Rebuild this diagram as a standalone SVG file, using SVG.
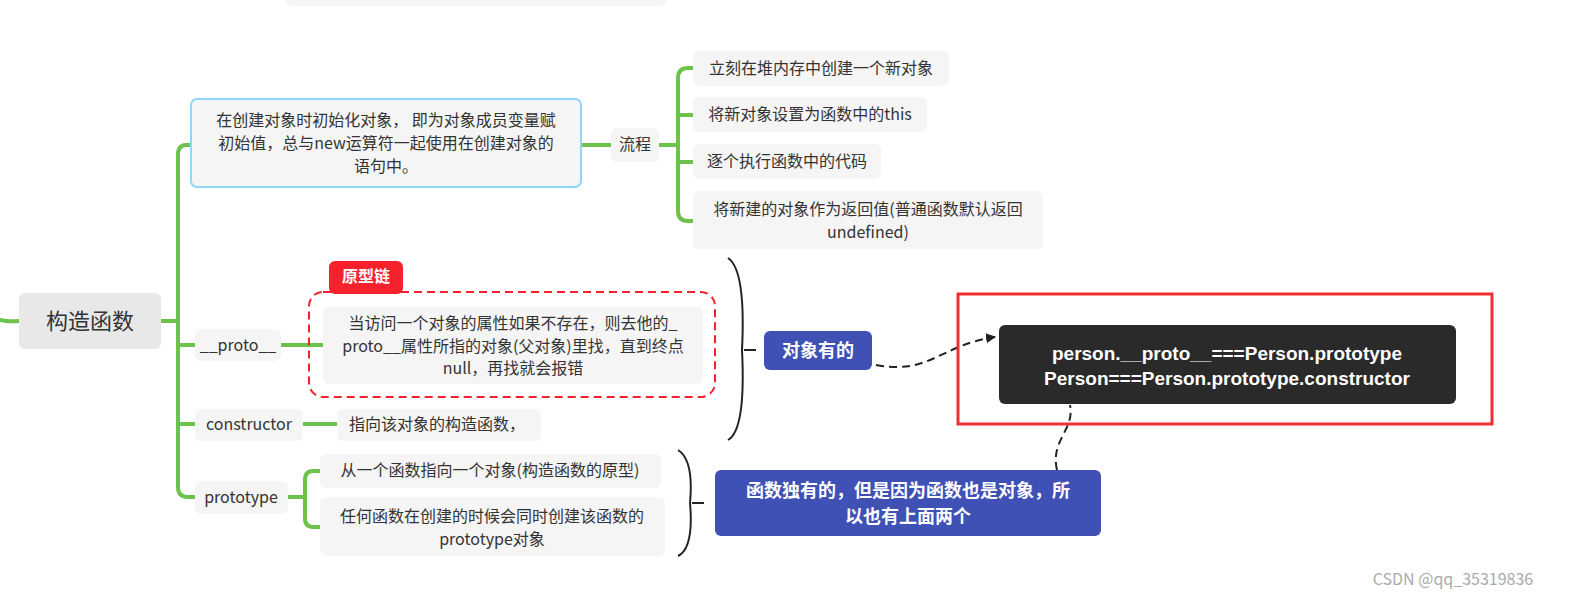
<svg xmlns="http://www.w3.org/2000/svg" width="1582" height="603" viewBox="0 0 1582 603">
<style>
text{font-family:"Noto Sans CJK SC","Liberation Sans",sans-serif;fill:#333;font-size:16px;text-anchor:middle}
.b{fill:#f5f5f5}
.g{fill:none;stroke:#6cc24a;stroke-width:4;stroke-linecap:round}
.w{fill:#fff;font-weight:bold}
.br{fill:none;stroke:#222;stroke-width:2}
</style>
<defs><marker id="ah" markerWidth="10" markerHeight="10" refX="9" refY="5" orient="auto" markerUnits="userSpaceOnUse"><path d="M0,0 L10,5 L0,10 Z" fill="#222"/></marker></defs>
<rect x="286" y="-12" width="381" height="18" rx="6" class="b"/>
<g id="connectors">
<path class="g" d="M0,320 Q8,322 19,321"/>
<path class="g" d="M161,321 L178,321"/>
<path class="g" d="M191,145 L186,145 Q178,145 178,155 L178,487 Q178,497 188,497 L195,497"/>
<path class="g" d="M178,345 L195,345 M178,424 L195,424"/>
<path class="g" d="M581,145 L611,145 M659,145 L678,145"/>
<path class="g" d="M693,68 L688,68 Q678,68 678,78 L678,211 Q678,221 688,221 L693,221 M678,115 L693,115 M678,162 L693,162"/>
<path class="g" d="M281,345 L323,345 M303,424 L337,424"/>
<path class="g" d="M288,497 L305,497 M320,471 L313,471 Q305,471 305,480 L305,518 Q305,527 313,527 L320,527"/>
<path class="br" d="M728,258 Q746,270 742,350 Q746,430 728,440 M744,350 L756,350"/>
<path class="br" d="M678,450 Q694,460 690,503 Q694,548 678,556 M692,503 L704,503"/>
<path d="M876,365 C930,375 940,345 995,337" fill="none" stroke="#222" stroke-width="2" stroke-dasharray="8,5" marker-end="url(#ah)"/>
<path d="M1057,470 C1050,440 1075,430 1070,405" fill="none" stroke="#222" stroke-width="2" stroke-dasharray="8,5"/>
</g>
<g id="root"><rect x="19" y="293" width="142" height="56" rx="6" fill="#e8e8e8"/><text x="90" y="329" style="font-size:22px">构造函数</text></g>
<g id="n1"><rect x="191" y="99" width="390" height="88" rx="6" class="b" stroke="#8dd7fb" stroke-width="2"/>
<text x="386" y="126">在创建对象时初始化对象， 即为对象成员变量赋</text><text x="386" y="149">初始值，总与new运算符一起使用在创建对象的</text><text x="386" y="172">语句中。</text></g>
<g id="lc"><rect x="611" y="128" width="48" height="34" rx="6" class="b"/><text x="635" y="150">流程</text></g>
<g id="s1"><rect x="693" y="51" width="256" height="35" rx="6" class="b"/><text x="821" y="74">立刻在堆内存中创建一个新对象</text></g>
<g id="s2"><rect x="693" y="97" width="234" height="35" rx="6" class="b"/><text x="810" y="120">将新对象设置为函数中的this</text></g>
<g id="s3"><rect x="693" y="144" width="188" height="35" rx="6" class="b"/><text x="787" y="167">逐个执行函数中的代码</text></g>
<g id="s4"><rect x="693" y="191" width="350" height="58" rx="6" class="b"/><text x="868" y="215">将新建的对象作为返回值(普通函数默认返回</text><text x="868" y="238">undefined)</text></g>
<g id="proto"><rect x="195" y="329" width="86" height="32" rx="6" class="b"/><text x="238" y="351">__proto__</text></g>
<g id="ctor"><rect x="195" y="409" width="108" height="32" rx="6" class="b"/><text x="249" y="430">constructor</text></g>
<g id="ptype"><rect x="195" y="481" width="93" height="33" rx="6" class="b"/><text x="241" y="503">prototype</text></g>
<g id="chain"><rect x="309" y="292" width="406" height="105" rx="14" fill="none" stroke="#f5222d" stroke-width="2" stroke-dasharray="8,5"/>
<rect x="329" y="261" width="74" height="33" rx="6" fill="#f5222d"/><text x="366" y="282" class="w">原型链</text>
<rect x="323" y="307" width="380" height="77" rx="6" class="b"/>
<text x="513" y="329">当访问一个对象的属性如果不存在，则去他的_</text><text x="513" y="352">proto__属性所指的对象(父对象)里找，直到终点</text><text x="513" y="374">null，再找就会报错</text></g>
<g id="ctorv"><rect x="337" y="409" width="204" height="32" rx="6" class="b"/><text x="437" y="430">指向该对象的构造函数，</text></g>
<g id="pt1"><rect x="320" y="454" width="341" height="34" rx="6" class="b"/><text x="490" y="476">从一个函数指向一个对象(构造函数的原型)</text></g>
<g id="pt2"><rect x="320" y="497" width="345" height="59" rx="6" class="b"/><text x="492" y="522">任何函数在创建的时候会同时创建该函数的</text><text x="492" y="545">prototype对象</text></g>
<g id="obj"><rect x="764" y="331" width="108" height="39" rx="6" fill="#3f51b5"/><text x="818" y="357" class="w" style="font-size:18px">对象有的</text></g>
<g id="fn"><rect x="715" y="470" width="386" height="66" rx="6" fill="#3f51b5"/><text x="908" y="497" class="w" style="font-size:18px">函数独有的，但是因为函数也是对象，所</text><text x="908" y="523" class="w" style="font-size:18px">以也有上面两个</text></g>
<g id="eq"><rect x="958" y="294" width="534" height="130" fill="none" stroke="#f03030" stroke-width="3"/>
<rect x="999" y="325" width="457" height="79" rx="6" fill="#2a2a2a"/>
<text x="1227" y="360" class="w" style="font-size:19px;font-family:'Liberation Sans',sans-serif">person.__proto__===Person.prototype</text>
<text x="1227" y="385" class="w" style="font-size:19px;font-family:'Liberation Sans',sans-serif">Person===Person.prototype.constructor</text></g>
<text x="1453" y="585" style="fill:#aaa;font-size:16px">CSDN @qq_35319836</text>
</svg>
